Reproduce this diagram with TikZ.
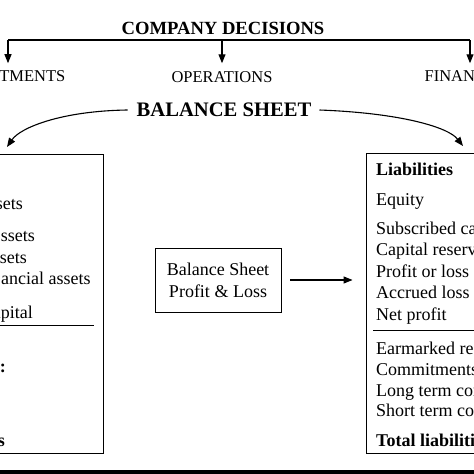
\documentclass[tikz,border=0pt]{standalone}
\usepackage{fontspec}
\setmainfont{Liberation Serif}
\usetikzlibrary{arrows.meta}

\newcommand{\boxfont}{\fontsize{18}{22}\selectfont}

\begin{document}
\begin{tikzpicture}
  [
    x = 1pt, y = -1pt,  % pixel grid, y grows downwards
    every node/.style = {font=\boxfont},
    box/.style = {draw, line width=0.9pt},
    rule/.style = {line width=0.9pt},
    arr/.style = {-{Triangle[length=9pt, width=7pt]}, line width=1.1pt},
    head/.style = {font=\bfseries\fontsize{18.6}{20}\selectfont, inner sep=0},
    branch/.style = {font=\fontsize{16.5}{18}\selectfont, inner sep=0}
  ]
  \useasboundingbox (0,0) rectangle (474,474);
  \fill (0,469.5) rectangle (474,474);

  % decisions
  \node[head] (CD) at (223,28) {COMPANY DECISIONS};
  \coordinate (Bar) at (222,40);
  \node[branch] (Inv) at (8,76) {INVESTMENTS};
  \node[branch] (Ops) at (222,77) {OPERATIONS};
  \node[branch] (Fin) at (470,76) {FINANCING};
  \draw[line width=1.1pt] (Inv |- Bar) -- (Fin |- Bar);
  \draw[arr, shorten >=7pt] (Inv |- Bar) -- (Inv.north);
  \draw[arr, shorten >=8pt] (Ops |- Bar) -- (Ops.north);
  \draw[arr, shorten >=7pt] (Fin |- Bar) -- (Fin.north);

  % balance sheet
  \node[head, font=\bfseries\fontsize{20.6}{22}\selectfont] (BS) at (224,110) {BALANCE SHEET};
  \node[box, minimum width=133pt, minimum height=299pt] (Assets) at (36.5,303.5) {};
  \node[box, minimum width=134pt, minimum height=300pt] (Liab) at (433,303) {};
  \coordinate (AssetsIn) at (7,147);
  \coordinate (LiabIn) at (463,146);
  \draw[arr] ([xshift=-9pt]BS.west) .. controls (60,111) and (20,128) .. (AssetsIn);
  \draw[arr] ([xshift=8pt]BS.east) .. controls (400,113) and (448,127) .. (LiabIn);

  \node[box, minimum width=126pt, minimum height=64pt, align=center] (PL) at (218,280)
    {Balance Sheet\\Profit \& Loss};
  \draw[arr, shorten >=13pt] ([xshift=9pt]PL.east) -- (PL.east -| Liab.west);

  \draw[rule] (-30,325) -- (94,325);
  \draw[rule] (373,330) -- (500,330);

  \begin{scope}[nodes = {anchor=base east, inner sep=0}]
    \node (A1) at (23,209) {sets};
    \node (A2) at (35,241) {ssets};
    \node (A3) at (27,263) {sets};
    \node[anchor=base west] (A4) at (1,284) {ancial assets};
    \node (A5) at (33,318) {apital};
    \node[font=\boxfont\bfseries] (A6) at (6,372) {:};
    \node[font=\boxfont\bfseries] (A7) at (5,446) {s};
  \end{scope}

  \begin{scope}[nodes = {anchor=base west, inner sep=0}]
    \node[font=\boxfont\bfseries] (L1) at (376,175) {Liabilities};
    \node (L2) at (376,205) {Equity};
    \node (L3) at (376,234) {Subscribed capital};
    \node (L4) at (376,255) {Capital reserves};
    \node (L5) at (376,277) {Profit or loss};
    \node (L6) at (376,298) {Accrued loss};
    \node (L7) at (376,320) {Net profit};
    \node (L8) at (376,354) {Earmarked reserves};
    \node (L9) at (376,375) {Commitments};
    \node (L10) at (376,396) {Long term commitments};
    \node (L11) at (376,416) {Short term commitments};
    \node[font=\boxfont\bfseries] (L12) at (376,446) {Total liabilities};
  \end{scope}
\end{tikzpicture}
\end{document}
